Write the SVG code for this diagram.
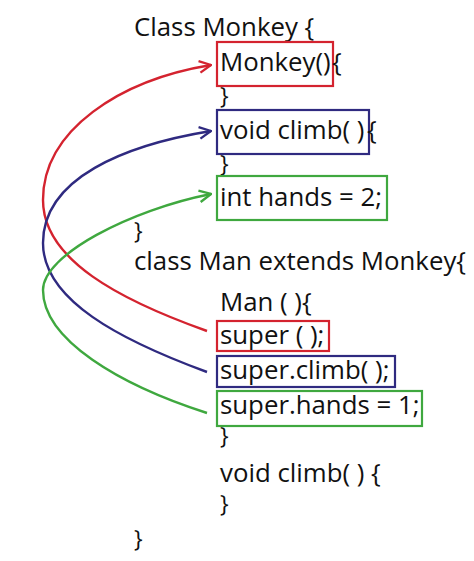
<svg xmlns="http://www.w3.org/2000/svg" width="474" height="561" viewBox="0 0 474 561">
<defs>
<style>
text{font-family:"Open Sans","Noto Sans","DejaVu Sans",sans-serif;font-size:25.8px;fill:#111}
text.br{font-size:23px}
.box{fill:#fff;stroke-width:2.2}
.red{stroke:#d4232f}
.blue{stroke:#2f2a80}
.green{stroke:#3fa83f}
.link{fill:none;stroke-width:2.4}
</style>
<marker id="arR" viewBox="0 0 12 12" refX="11" refY="6" markerWidth="14" markerHeight="14" markerUnits="userSpaceOnUse" orient="auto">
<path d="M1,1 L11,6 L1,11" fill="none" stroke="#d4232f" stroke-width="2"/>
</marker>
<marker id="arB" viewBox="0 0 12 12" refX="11" refY="6" markerWidth="14" markerHeight="14" markerUnits="userSpaceOnUse" orient="auto">
<path d="M1,1 L11,6 L1,11" fill="none" stroke="#2f2a80" stroke-width="2"/>
</marker>
<marker id="arG" viewBox="0 0 12 12" refX="11" refY="6" markerWidth="14" markerHeight="14" markerUnits="userSpaceOnUse" orient="auto">
<path d="M1,1 L11,6 L1,11" fill="none" stroke="#3fa83f" stroke-width="2"/>
</marker>
</defs>
<rect width="474" height="561" fill="#fff"/>
<g id="braces">
<text class="br" x="220" y="104">}</text>
<text class="br" x="220" y="172">}</text>
</g>
<g id="code">
<text x="134" y="36">Class Monkey {</text>
<text class="br" x="134" y="239">}</text>
<text x="134" y="270">class Man extends Monkey{</text>
<text x="220" y="311">Man ( ){</text>
<text class="br" x="220" y="444">}</text>
<text x="220" y="482">void climb( ) {</text>
<text class="br" x="220" y="512">}</text>
<text class="br" x="134" y="547">}</text>
</g>
<g id="monkey-ctor">
<rect class="box red" x="217" y="42" width="116" height="44"/>
<text x="220" y="71">Monkey()</text>
<text x="332" y="71">{</text>
</g>
<g id="monkey-climb">
<rect class="box blue" x="217" y="110" width="152" height="44"/>
<text x="220" y="139">void climb( )</text>
<text x="367" y="139">{</text>
</g>
<g id="monkey-hands">
<rect class="box green" x="217" y="176" width="170" height="44"/>
<text x="220" y="206">int hands = 2;</text>
</g>
<g id="man-super">
<rect class="box red" x="217" y="321" width="112" height="30"/>
<text x="220" y="344">super ( );</text>
</g>
<g id="man-super-climb">
<rect class="box blue" x="217" y="356" width="178" height="31"/>
<text x="220" y="379">super.climb( );</text>
</g>
<g id="man-super-hands">
<rect class="box green" x="217" y="391" width="205" height="35"/>
<text x="220" y="414">super.hands = 1;</text>
</g>
<g id="connectors">
<path class="link red" marker-end="url(#arR)" d="M207,331 C120,300 43,260 43,200 C43,130 120,80 211,65"/>
<path class="link blue" marker-end="url(#arB)" d="M207,372 C120,340 43,300 43,243 C43,178 125,145 211,131"/>
<path class="link green" marker-end="url(#arG)" d="M207,413 C120,385 43,340 43,290 C43,255 130,210 211,194"/>
</g>
</svg>
